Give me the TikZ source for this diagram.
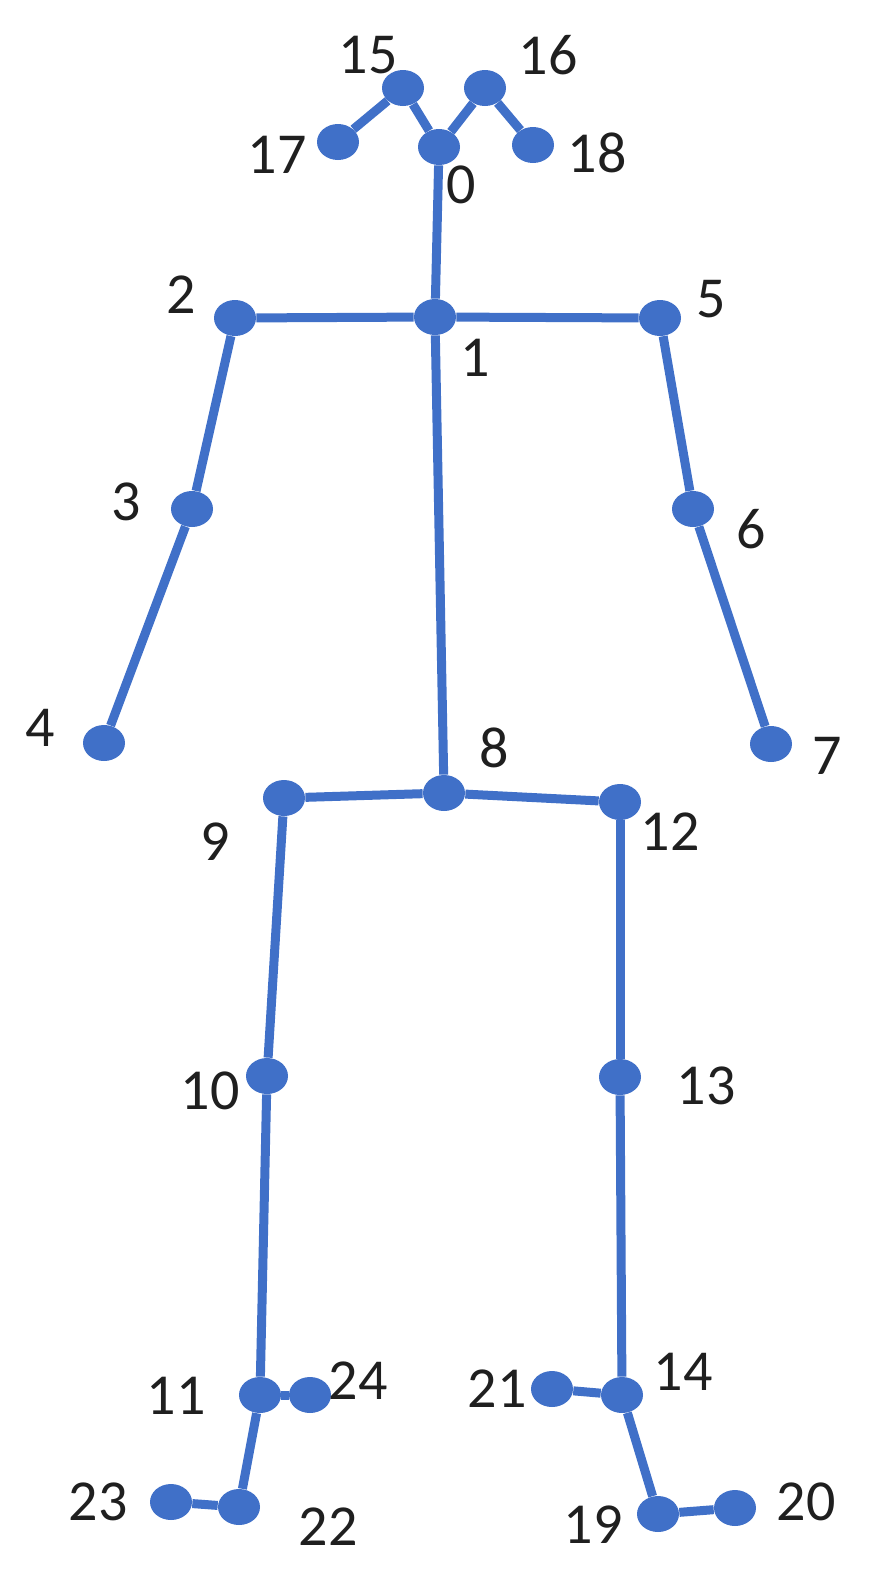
\documentclass[tikz,border=0pt]{standalone}
\usepackage{fontspec}
\setmainfont{Carlito}
\usetikzlibrary{shapes.geometric}
\definecolor{bone}{RGB}{64,112,200}

\begin{document}
\begin{tikzpicture}[x=0.5pt,y=-0.5pt,
	joint/.style={draw=none,ellipse,fill=bone,minimum width=21pt,minimum height=18pt,inner sep=0pt},
	num/.style={font=\fontsize{29}{29}\selectfont,text=black!88,inner sep=0pt}]
\useasboundingbox (0,0) rectangle (876,1581);

\foreach \n/\x/\y in {0/439/147,1/435/317,2/235/318,3/192/509,4/104/743,5/660/318,6/693/509,
	7/771/744,8/444/793,9/284/798,10/267/1076,11/260/1395,12/620/802,13/620/1077,14/622/1395,
	15/403/88,16/485/88,17/338/142,18/533/145,19/658/1514,20/735/1508,21/552/1389,22/239/1507,
	23/171/1502,24/310/1395}
	\node[joint] (j\n) at (\x,\y) {};

\foreach \n/\x/\y in {0/461/185,1/475/358,2/181/295,3/126/502,4/40/728,5/711/299,6/751/529,
	7/827/756,8/494/748,9/215/842,10/210/1091,11/176/1396,12/670/832,13/706/1086,14/683/1372,
	15/368/55,16/548/55,17/277/155,18/597/153,19/593/1525,20/806/1502,21/497/1389,22/328/1527,
	23/98/1502,24/358/1381}
	\node[num] (l\n) at (\x,\y) {\n};

\foreach \x/\y in {0/1,0/15,0/16,15/17,16/18,1/2,1/5,2/3,3/4,5/6,6/7,1/8,8/9,8/12,9/10,
	10/11,11/24,11/22,22/23,12/13,13/14,14/21,14/19,19/20}
	\draw[bone,line width=4.5pt] (j\x) to (j\y);
\end{tikzpicture}
\end{document}
